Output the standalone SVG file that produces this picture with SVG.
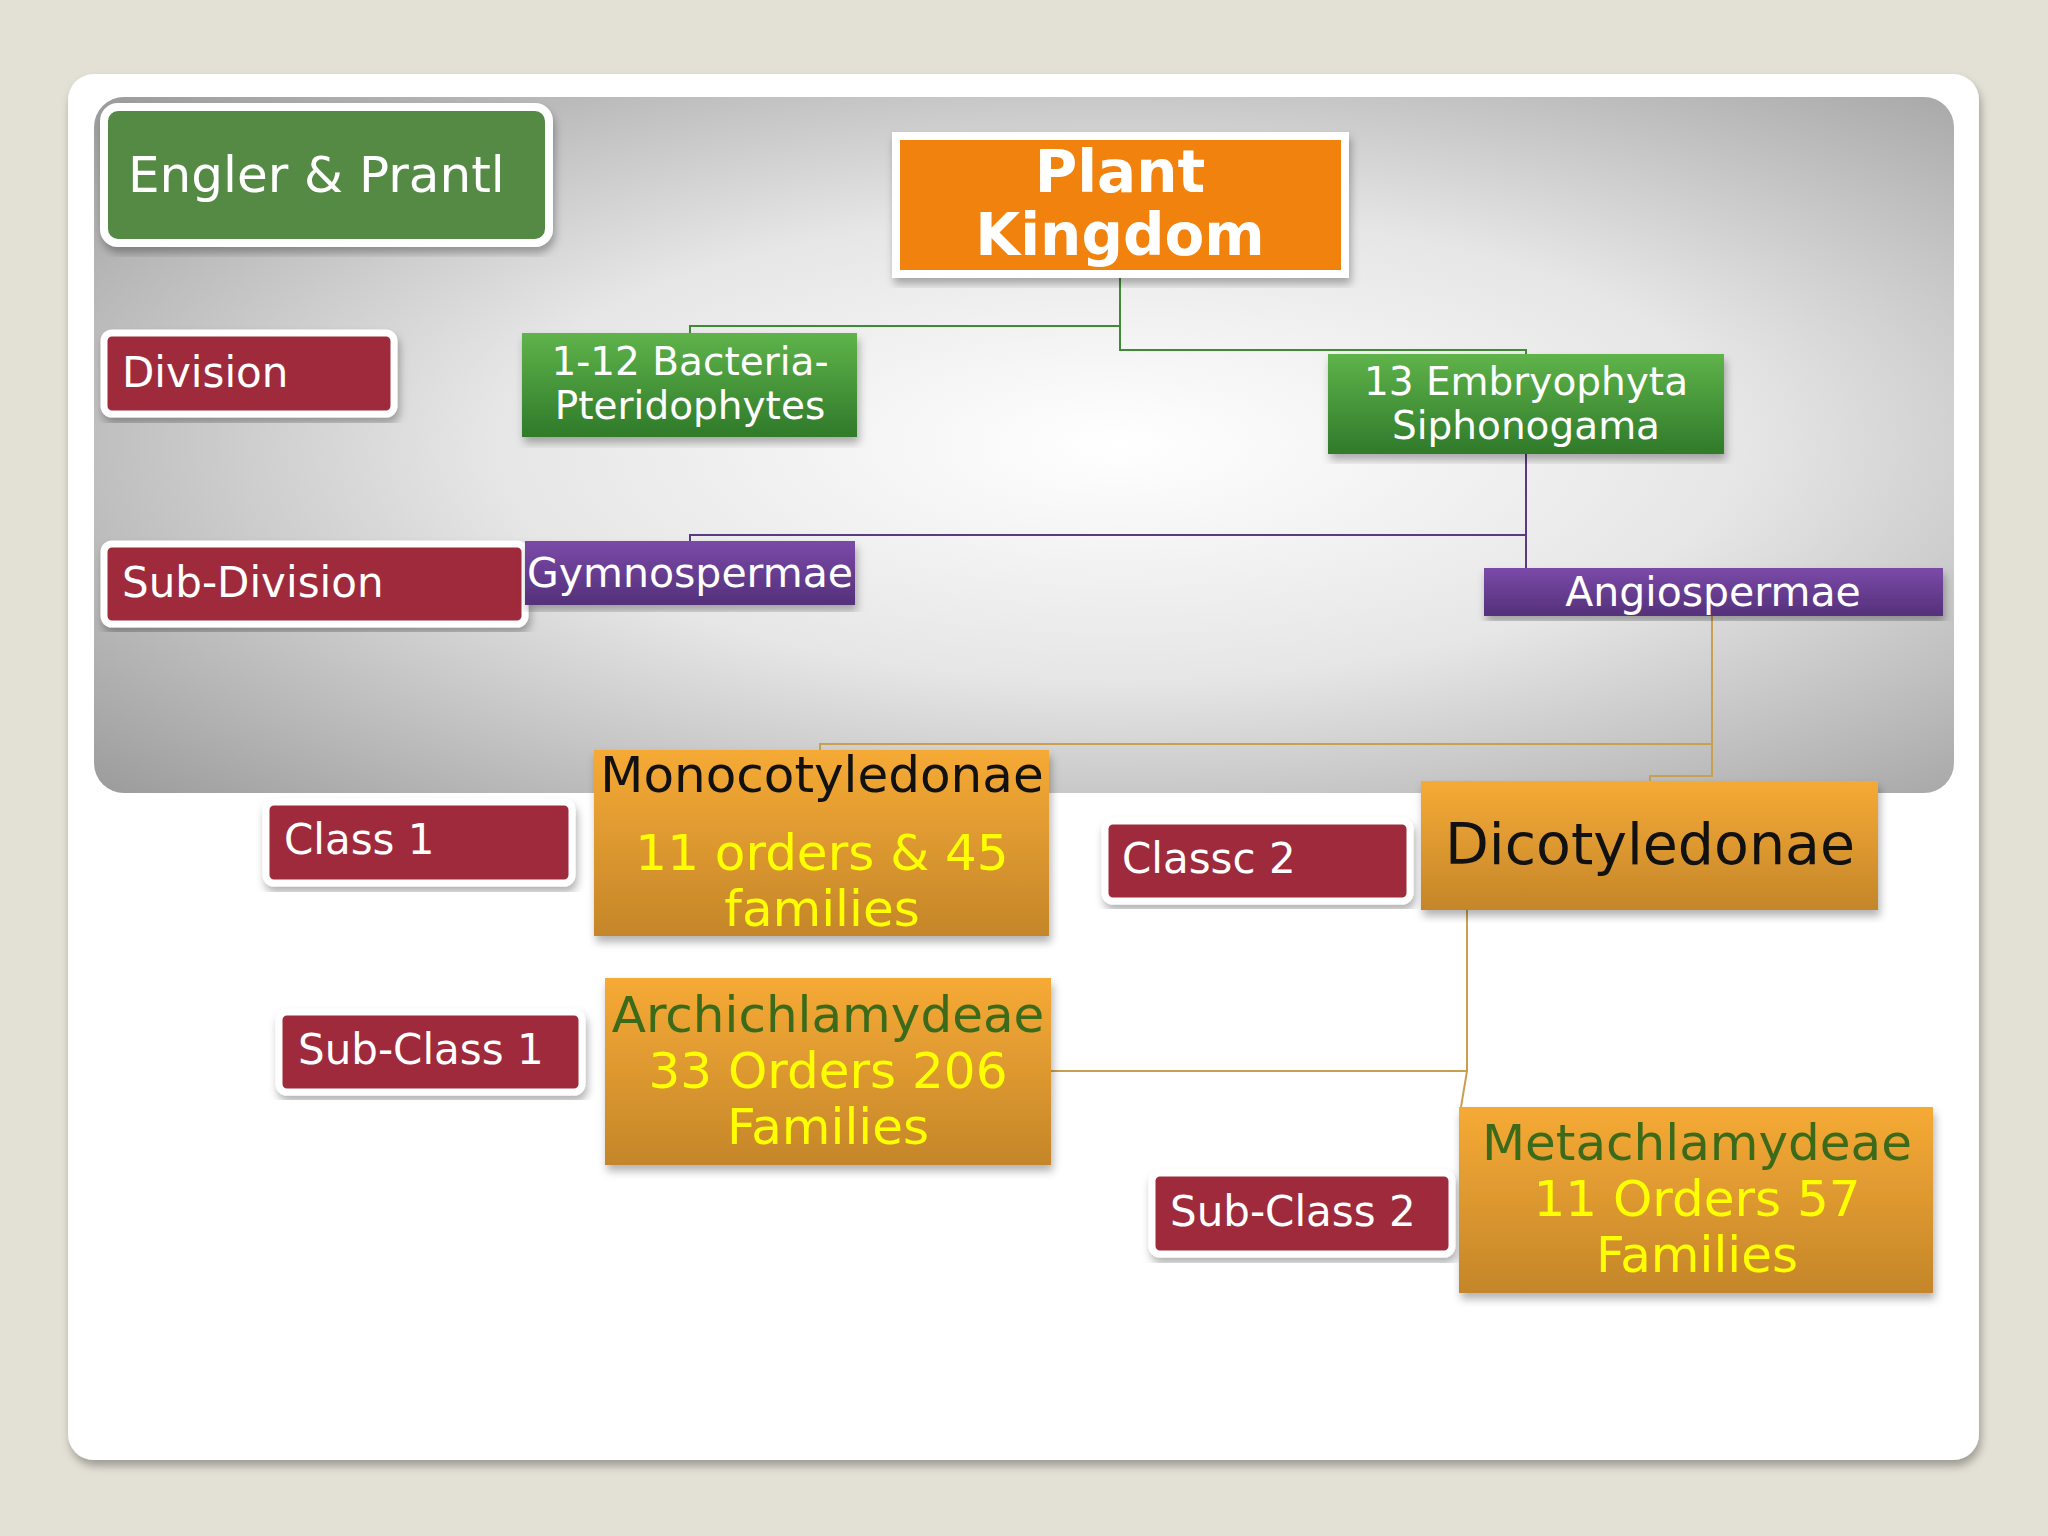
<svg xmlns="http://www.w3.org/2000/svg" width="2048" height="1536" viewBox="0 0 2048 1536">
<defs>
<radialGradient id="bg" cx="0.55" cy="0.5" r="0.75"><stop offset="0" stop-color="#ffffff"/><stop offset="0.45" stop-color="#e6e6e6"/><stop offset="1" stop-color="#9a9a9a"/></radialGradient>
<linearGradient id="gr" x1="0" y1="0" x2="0" y2="1"><stop offset="0" stop-color="#5fb34a"/><stop offset="1" stop-color="#2f7a2a"/></linearGradient>
<linearGradient id="pu" x1="0" y1="0" x2="0" y2="1"><stop offset="0" stop-color="#7a4aa8"/><stop offset="1" stop-color="#54307a"/></linearGradient>
<linearGradient id="go" x1="0" y1="0" x2="0" y2="1"><stop offset="0" stop-color="#f6aa35"/><stop offset="1" stop-color="#c4862a"/></linearGradient>
<filter id="sh"><feDropShadow dx="2" dy="6" stdDeviation="4" flood-opacity="0.3"/></filter>
</defs>
<style>
.red{fill:#9e2a3a;stroke:#fff;stroke-width:7;filter:url(#sh)}
.t{font-family:"DejaVu Sans",sans-serif;fill:#fff}
.gold{fill:url(#go);filter:url(#sh)}
.c{fill:none;stroke-width:2}
</style>
<rect width="2048" height="1536" fill="#e3e0d5"/>
<rect x="68" y="74" width="1911" height="1386" rx="26" fill="#fff" filter="url(#sh)"/>
<rect x="94" y="97" width="1860" height="696" rx="30" fill="url(#bg)"/>
<g id="connectors">
<path class="c" stroke="#3f8a35" d="M1120,274V326H690V333M1120,326V350H1526V354"/>
<path class="c" stroke="#5a3a80" d="M1526,454V535H690V541M1526,535V568"/>
<path class="c" stroke="#c9a050" d="M1712,616V744H820V750M1712,744V776H1650V781"/>
<path class="c" stroke="#c9a050" d="M1467,910V1071H1051M1467,1071L1461,1107"/>
</g>
<g id="engler"><rect x="104" y="107" width="445" height="136" rx="14" fill="#548a45" stroke="#fff" stroke-width="8" filter="url(#sh)"/><text class="t" x="128" y="192" font-size="50">Engler &amp; Prantl</text></g>
<g id="plant"><rect x="896" y="136" width="449" height="138" fill="#f0820f" stroke="#fff" stroke-width="8" filter="url(#sh)"/><text class="t" x="1120" y="192" font-size="58" font-weight="bold" text-anchor="middle">Plant</text><text class="t" x="1120" y="255" font-size="58" font-weight="bold" text-anchor="middle">Kingdom</text></g>
<g id="division"><rect class="red" x="104" y="333" width="290" height="81" rx="8"/><text class="t" x="122" y="387" font-size="42">Division</text></g>
<g id="bacteria"><rect x="522" y="333" width="335" height="104" fill="url(#gr)" filter="url(#sh)"/><text class="t" x="690" y="375" font-size="39" text-anchor="middle">1-12 Bacteria-</text><text class="t" x="690" y="419" font-size="39" text-anchor="middle">Pteridophytes</text></g>
<g id="embryo"><rect x="1328" y="354" width="396" height="100" fill="url(#gr)" filter="url(#sh)"/><text class="t" x="1526" y="395" font-size="39" text-anchor="middle">13 Embryophyta</text><text class="t" x="1526" y="439" font-size="39" text-anchor="middle">Siphonogama</text></g>
<g id="subdiv"><rect class="red" x="104" y="544" width="421" height="80" rx="8"/><text class="t" x="122" y="597" font-size="42">Sub-Division</text></g>
<g id="gymno"><rect x="525" y="541" width="330" height="64" fill="url(#pu)" filter="url(#sh)"/><text class="t" x="690" y="587" font-size="41" text-anchor="middle">Gymnospermae</text></g>
<g id="angio"><rect x="1484" y="568" width="459" height="48" fill="url(#pu)" filter="url(#sh)"/><text class="t" x="1713" y="606" font-size="41" text-anchor="middle">Angiospermae</text></g>
<g id="class1"><rect class="red" x="266" y="802" width="306" height="81" rx="8"/><text class="t" x="284" y="854" font-size="42">Class 1</text></g>
<g id="mono"><rect class="gold" x="594" y="750" width="455" height="186"/><text x="822" y="792" font-size="50" font-family="DejaVu Sans,sans-serif" fill="#111" text-anchor="middle">Monocotyledonae</text><text x="822" y="870" font-size="50" font-family="DejaVu Sans,sans-serif" fill="#ffff00" text-anchor="middle">11 orders &amp; 45</text><text x="822" y="926" font-size="50" font-family="DejaVu Sans,sans-serif" fill="#ffff00" text-anchor="middle">families</text></g>
<g id="class2"><rect class="red" x="1105" y="821" width="305" height="80" rx="8"/><text class="t" x="1122" y="873" font-size="42">Classc 2</text></g>
<g id="dicot"><rect class="gold" x="1421" y="781" width="457" height="129"/><text x="1650" y="864" font-size="57" font-family="DejaVu Sans,sans-serif" fill="#111" text-anchor="middle">Dicotyledonae</text></g>
<g id="subclass1"><rect class="red" x="279" y="1012" width="303" height="80" rx="8"/><text class="t" x="298" y="1064" font-size="42">Sub-Class 1</text></g>
<g id="archi"><rect class="gold" x="605" y="978" width="446" height="187"/><text x="828" y="1032" font-size="50" font-family="DejaVu Sans,sans-serif" fill="#3a6a1a" text-anchor="middle">Archichlamydeae</text><text x="828" y="1088" font-size="50" font-family="DejaVu Sans,sans-serif" fill="#ffff00" text-anchor="middle">33 Orders 206</text><text x="828" y="1144" font-size="50" font-family="DejaVu Sans,sans-serif" fill="#ffff00" text-anchor="middle">Families</text></g>
<g id="subclass2"><rect class="red" x="1152" y="1173" width="300" height="81" rx="8"/><text class="t" x="1170" y="1226" font-size="42">Sub-Class 2</text></g>
<g id="meta"><rect class="gold" x="1459" y="1107" width="474" height="186"/><text x="1697" y="1160" font-size="50" font-family="DejaVu Sans,sans-serif" fill="#3a6a1a" text-anchor="middle">Metachlamydeae</text><text x="1697" y="1216" font-size="50" font-family="DejaVu Sans,sans-serif" fill="#ffff00" text-anchor="middle">11 Orders 57</text><text x="1697" y="1272" font-size="50" font-family="DejaVu Sans,sans-serif" fill="#ffff00" text-anchor="middle">Families</text></g>
</svg>
